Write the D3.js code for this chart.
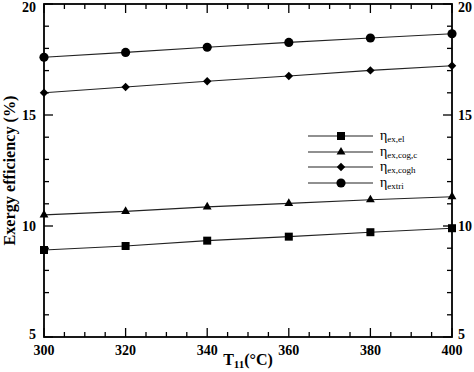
<!DOCTYPE html>
<html>
<head>
<meta charset="utf-8">
<script src="https://cdn.jsdelivr.net/npm/d3@7"></script>
<style>
  body { margin: 0; background: #fff; }
  svg { display: block; }
  text { font-family: "Liberation Serif", "DejaVu Serif", serif; font-weight: bold; fill: #000; }
</style>
</head>
<body>
<svg id="chart" width="474" height="372"></svg>
<script>
// data
const temps = [300, 320, 340, 360, 380, 400];
const etaExEl = [8.92, 9.10, 9.34, 9.52, 9.72, 9.90];
const etaExCogC = [10.50, 10.66, 10.86, 11.02, 11.18, 11.32];
const etaExCogh = [16.00, 16.26, 16.52, 16.76, 17.01, 17.22];
const etaExTri = [17.60, 17.82, 18.05, 18.27, 18.47, 18.66];
const xTicks = [300, 320, 340, 360, 380, 400];
const yTicks = [5, 10, 15, 20];

const series = [
    { sub: 'ex,el', values: etaExEl, symbol: d3.symbolSquare, size: 64, rot: 0 },
    { sub: 'ex,cog,c', values: etaExCogC, symbol: d3.symbolTriangle, size: 34, rot: 0 },
    { sub: 'ex,cogh', values: etaExCogh, symbol: d3.symbolSquare, size: 36, rot: 45 },
    { sub: 'extri', values: etaExTri, symbol: d3.symbolCircle, size: 66, rot: 0 }
];

const svg = d3.select('#chart');
const margin = { top: 4, right: 22, bottom: 35, left: 44 };
const width = 474, height = 372;

const x = d3.scaleLinear().domain([300, 400]).range([margin.left, width - margin.right]);
const y = d3.scaleLinear().domain([5, 20]).range([height - margin.bottom, margin.top]);

const x0 = x(300), x1 = x(400), y0 = y(5), y1 = y(20);

// ticks (inward, on all four sides)
const tickG = svg.append('g').attr('stroke', '#000').attr('stroke-width', 1.3);
d3.range(300, 401, 5).forEach(v => {
    const len = v % 20 === 0 ? 9 : 5;
    tickG.append('line').attr('x1', x(v)).attr('x2', x(v)).attr('y1', y0).attr('y2', y0 - len);
    tickG.append('line').attr('x1', x(v)).attr('x2', x(v)).attr('y1', y1).attr('y2', y1 + len);
});
d3.range(5, 20.01, 1).forEach(v => {
    const len = v % 5 === 0 ? 9 : 5;
    tickG.append('line').attr('x1', x0).attr('x2', x0 + len).attr('y1', y(v)).attr('y2', y(v));
    tickG.append('line').attr('x1', x1).attr('x2', x1 - len).attr('y1', y(v)).attr('y2', y(v));
});

// frame
svg.append('rect')
    .attr('x', x0).attr('y', y1)
    .attr('width', x1 - x0).attr('height', y0 - y1)
    .attr('fill', 'none').attr('stroke', '#000').attr('stroke-width', 1.8);

// tick labels
const yLabPos = d => d === 5 ? y(d) - 3 : d === 20 ? y(d) + 3 : y(d);

svg.selectAll('.xlab').data(xTicks).enter().append('text')
    .attr('class', 'xlab')
    .attr('x', d => x(d)).attr('y', y0 + 18)
    .attr('text-anchor', 'middle')
    .style('font-size', '14px')
    .text(d => d);

svg.selectAll('.ylabL').data(yTicks).enter().append('text')
    .attr('class', 'ylabL')
    .attr('x', x0 - 8).attr('y', yLabPos)
    .attr('dy', '0.35em')
    .attr('text-anchor', 'end')
    .style('font-size', '14px')
    .text(d => d);

svg.selectAll('.ylabR').data(yTicks).enter().append('text')
    .attr('class', 'ylabR')
    .attr('x', x1 + 6).attr('y', yLabPos)
    .attr('dy', '0.35em')
    .attr('text-anchor', 'start')
    .style('font-size', '14px')
    .text(d => d);

// axis titles
const xt = svg.append('text')
    .attr('x', (x0 + x1) / 2).attr('y', 365)
    .attr('text-anchor', 'middle')
    .style('font-size', '16px');
xt.append('tspan').text('T');
xt.append('tspan').attr('dy', 3).style('font-size', '11px').text('11');
xt.append('tspan').attr('dy', -3).text('(°C)');

svg.append('text')
    .attr('transform', `translate(15, ${(y0 + y1) / 2}) rotate(-90)`)
    .attr('text-anchor', 'middle')
    .attr('textLength', 150)
    .attr('lengthAdjust', 'spacingAndGlyphs')
    .style('font-size', '16px')
    .text('Exergy efficiency (%)');

// series
const line = d3.line().x((d, i) => x(temps[i])).y(d => y(d));

series.forEach(s => {
    svg.append('path')
        .attr('d', line(s.values))
        .attr('fill', 'none')
        .attr('stroke', '#222')
        .attr('stroke-width', 1.1);

    svg.selectAll(null).data(s.values).enter().append('path')
        .attr('d', d3.symbol().type(s.symbol).size(s.size))
        .attr('transform', (d, i) => `translate(${x(temps[i])},${y(d)}) rotate(${s.rot})`)
        .attr('fill', '#000');
});

// legend
const legendY = [136, 152, 167, 183];
series.forEach((s, i) => {
    const g = svg.append('g').attr('transform', `translate(0, ${legendY[i]})`);
    g.append('line').attr('x1', 308).attr('x2', 373).attr('y1', 0).attr('y2', 0)
        .attr('stroke', '#222').attr('stroke-width', 1.1);
    g.append('path')
        .attr('d', d3.symbol().type(s.symbol).size(s.size))
        .attr('transform', `translate(341,0) rotate(${s.rot})`)
        .attr('fill', '#000');
    const t = g.append('text').attr('x', 380).attr('y', 4)
        .style('font-size', '14px').style('font-weight', 'normal');
    t.append('tspan').text('η');
    t.append('tspan').attr('dy', 2).style('font-size', '9px').text(s.sub);
});
</script>
</body>
</html>
